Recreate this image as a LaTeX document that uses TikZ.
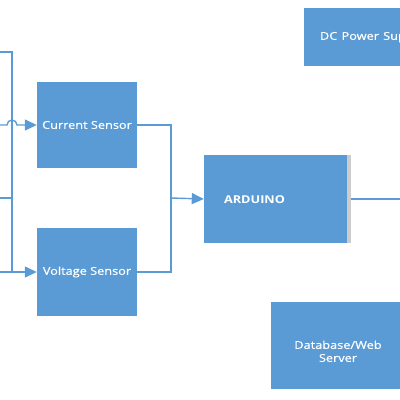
\documentclass[tikz,border=0pt]{standalone}
\usepackage{fontspec}
\setmainfont{Open Sans}[UprightFeatures={FakeBold=0.5}]
\usepackage{graphicx}
\usetikzlibrary{arrows.meta,shadows}
\definecolor{boxblue}{HTML}{5B9BD5}
\definecolor{lineblue}{HTML}{5B9BD5}
% text in the picture is a little wider than the font
\newcommand{\wtext}[1]{\scalebox{1.18}[1]{#1}}
\tikzset{
    block/.style={rectangle, fill=boxblue, text=white, inner sep=0pt, font=\fontsize{10.8}{13}\selectfont},
    link/.style={draw=lineblue, line width=1.4pt},
    flow/.style={link, -{Triangle[length=12pt,width=11pt]}}
}

\begin{document}
\begin{tikzpicture}[x=1pt, y=-1pt]
    \useasboundingbox (0,0) rectangle (400,400);
    \clip (0,0) rectangle (400,400);
    % blocks
    \node[block, minimum width=100pt, minimum height=86pt] (cs) at (87,125) {\wtext{Current Sensor}};
    \node[block, minimum width=100pt, minimum height=88pt] (vs) at (87,272) {\wtext{Voltage Sensor}};
    \node[block, minimum width=143pt, minimum height=88pt, text width=103pt, inner xsep=20pt, align=left,
          drop shadow={shadow xshift=4pt, shadow yshift=0pt, fill=gray!40, opacity=1}] (ard) at (275.5,199) {\raisebox{-4.5pt}[0pt][0pt]{\wtext{\bfseries ARDUINO}}};
    \node[block, minimum width=150pt, minimum height=58pt, text width=118pt, inner xsep=16pt, align=left] (dc) at (379,37) {\wtext{DC Power Supply}};
    \node[block, minimum width=134pt, minimum height=87pt] (db) at (338,345.5) {\raisebox{-10pt}[0pt][0pt]{\wtext{\begin{tabular}{@{}c@{}}Database/Web\\Server\end{tabular}}}};
    % free ends of the lines
    \coordinate (in1) at (0,52);
    \coordinate (in2) at (0,198);
    \coordinate (in3) at (0,125);
    \coordinate (in4) at (0,272);
    \coordinate (bus) at (12,272);
    \coordinate (jn) at (171,198);
    \coordinate (out) at (400,199);
    % inputs
    \draw[link] (in1) -| (bus);
    \draw[link] (in2) -- (in2 -| bus);
    \draw[flow] (in3) -- ++(7,0) arc[start angle=180, end angle=360, radius=5] -- (cs.west);
    \draw[flow] (in4) -- (vs.west);
    % sensors to arduino
    \draw[link] (cs.east) -| (jn);
    \draw[link] (vs.east) -| (jn);
    \draw[flow] (jn) -- (ard.west);
    \draw[link] (ard.east) ++(4,0) -- (out);
\end{tikzpicture}
\end{document}
